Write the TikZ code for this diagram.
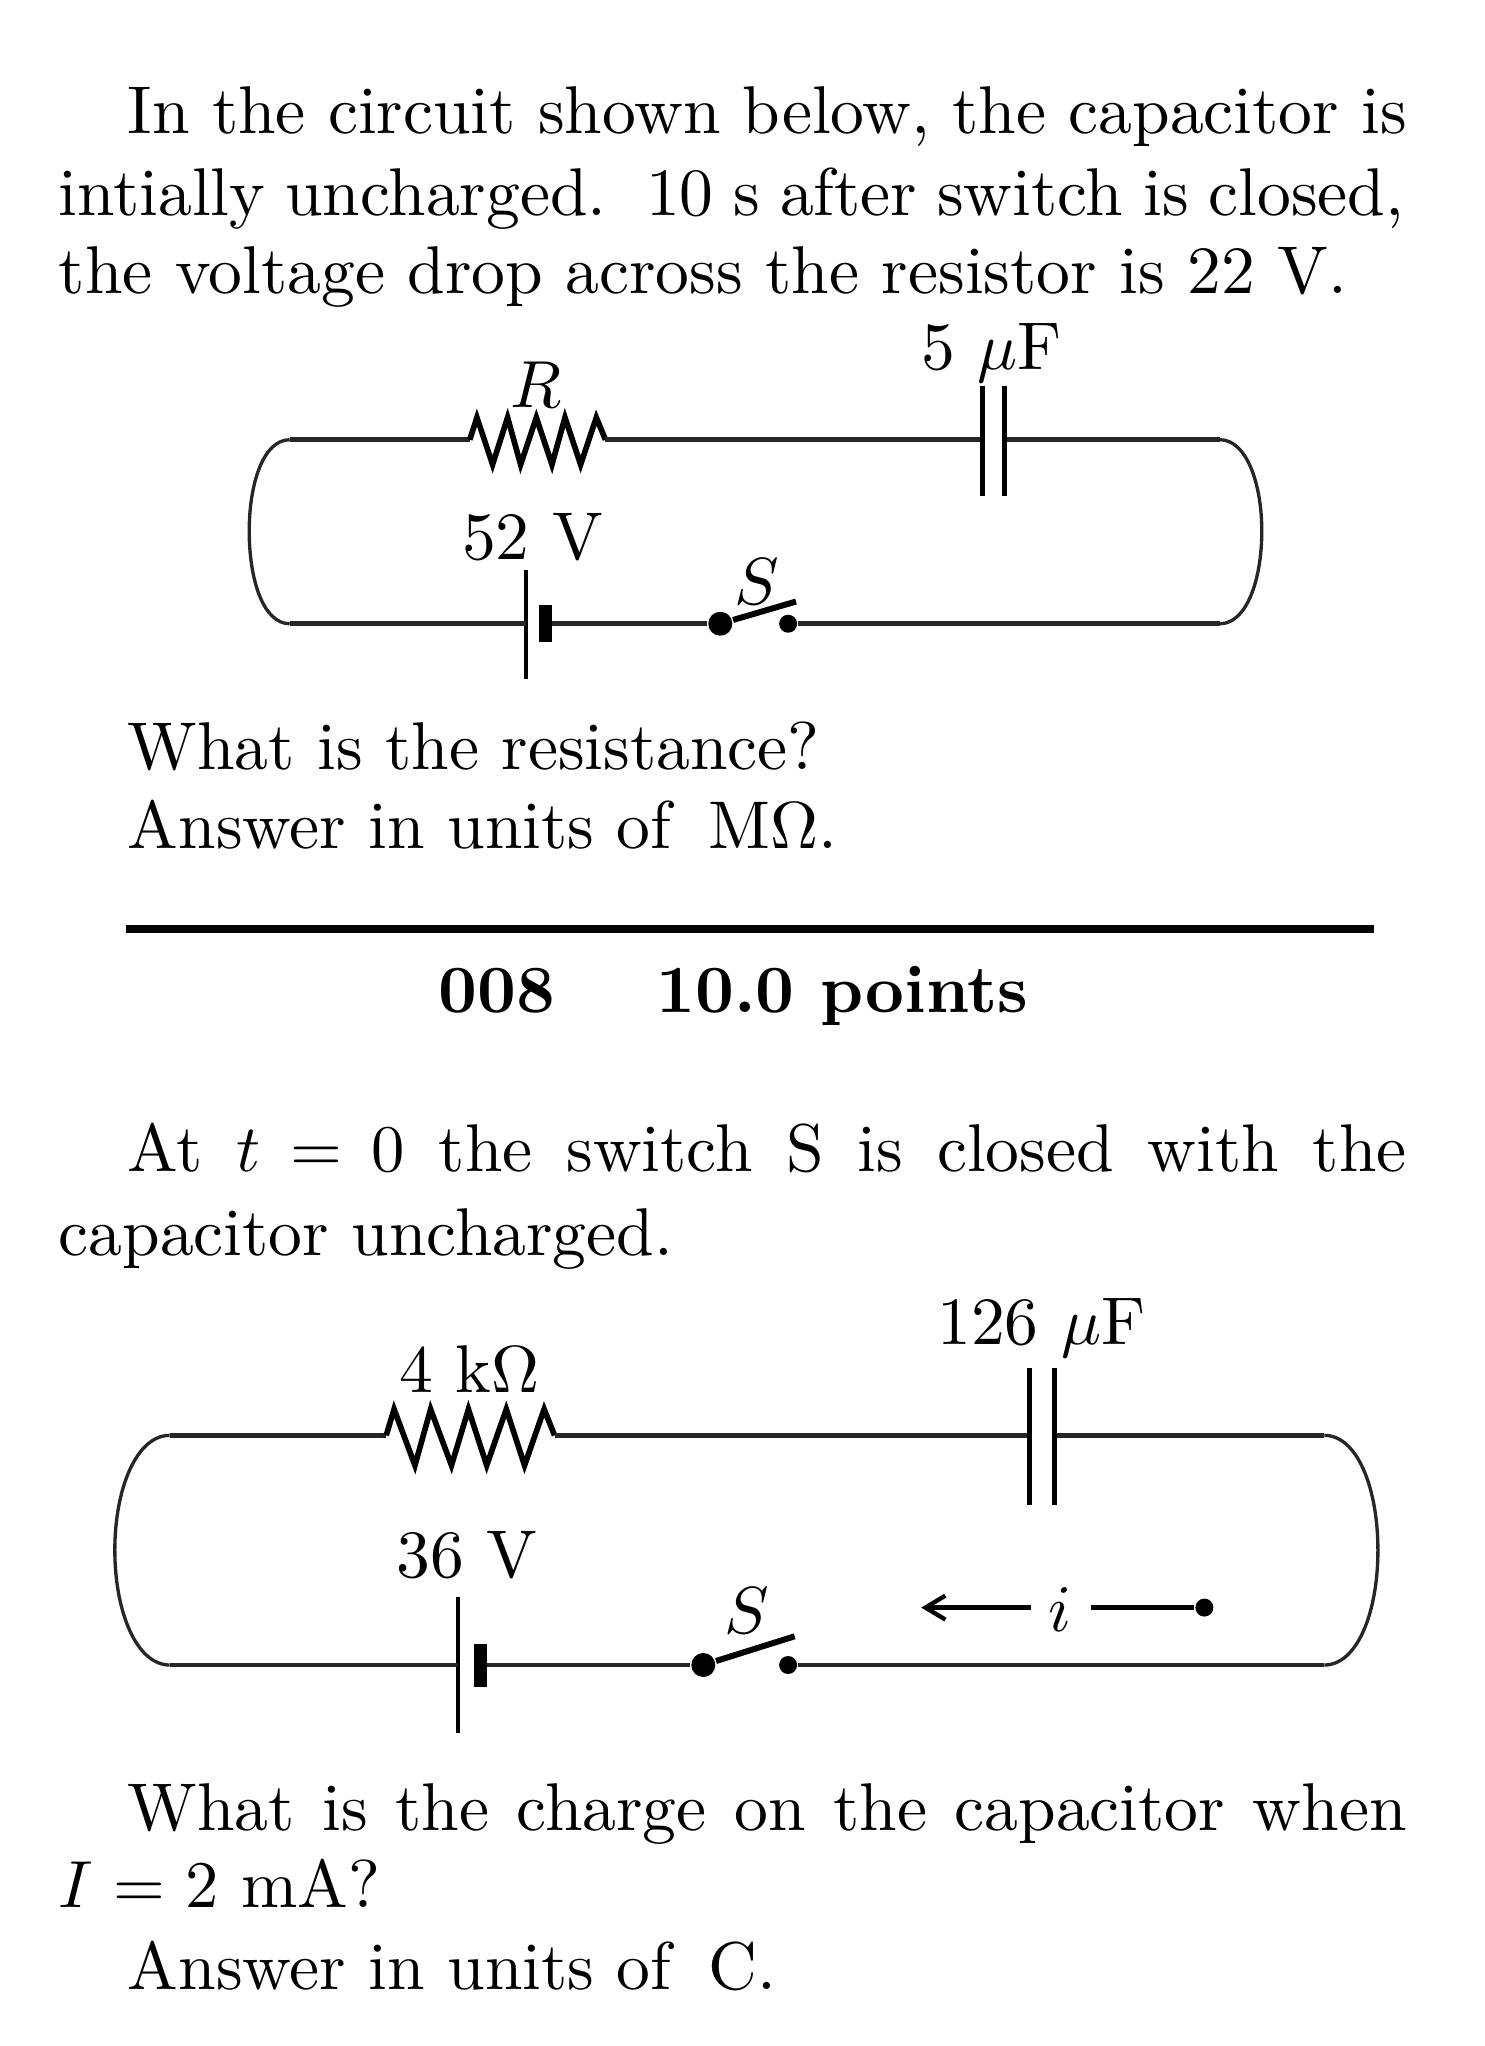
\documentclass[tikz,border=0pt]{standalone}
\usetikzlibrary{arrows.meta}
\begin{document}
\begin{tikzpicture}[x=0.196pt,y=-0.196pt,
  font=\fontsize{10.15}{12}\selectfont,
  txt/.style={anchor=base west,inner sep=0pt,outer sep=0pt},
  lbl/.style={anchor=base,inner sep=0pt,outer sep=0pt},
  wire/.style={line width=0.72pt,draw=black!85},
  thin wire/.style={line width=0.5pt,draw=black!85},
  plate/.style={line width=0.8pt},
  thickplate/.style={line width=1.9pt},
  zig/.style={line width=0.85pt,line join=miter},
  lever/.style={line width=0.9pt},
  bigdot/.style={circle,fill=black,inner sep=0pt,minimum size=3.6pt},
  smalldot/.style={circle,fill=black,inner sep=0pt,minimum size=2.7pt}]
\useasboundingbox (0,0) rectangle (1138,1568);
% text
\node[txt] (p1a) at (98,102) {\hbox to 192.1pt{In the circuit shown below, the capacitor is}};
\node[txt] (p1b) at (45,165) {\hbox to 202.1pt{intially uncharged.\ \ 10 s after switch is closed,}};
\node[txt] (p1c) at (45,225) {the voltage drop across the resistor is 22 V.};
\node[txt] (q1a) at (98,590) {What is the resistance?};
\node[txt] (q1b) at (98,650) {Answer in units of\hspace{0.55em}M$\Omega$.};
\node[fill=black,inner sep=0pt,minimum width=187.4pt,minimum height=1.1pt] (rule) at (575,712) {};
\node[lbl] (head) at (562,776) {\bfseries 008\hspace{1.5em}10.0 points};
\node[txt] (p2a) at (98,898) {\hbox to 192.1pt{At $\thickmuskip=8mu t=0$ the switch S is closed with the}};
\node[txt] (p2b) at (45,962) {capacitor uncharged.};
\node[txt] (q2a) at (98,1403) {\hbox to 192.1pt{What is the charge on the capacitor when}};
\node[txt] (q2b) at (45,1462) {$\thickmuskip=5.5mu I=2$ mA?};
\node[txt] (q2c) at (98,1525) {Answer in units of\hspace{0.55em}C.};
% circuit 1
\node[lbl] (lR) at (411,312) {$R$};
\node[lbl] (lC) at (760,283) {5 $\mu$F};
\node[lbl] (lV) at (408,429) {52 V};
\node[lbl] (lS) at (580,463) {$S$};
\coordinate (tl) at (222,337); \coordinate (tr) at (935,337);
\coordinate (bl) at (222,478); \coordinate (br) at (935,478);
\coordinate (ra) at (360,337); \coordinate (rb) at (464,337);
\coordinate (ca) at (753,337); \coordinate (cb) at (770,337);
\coordinate (ba) at (403,478); \coordinate (bb) at (418,478);
\node[bigdot] (sa) at (552,478) {};
\node[smalldot] (sb) at (604,478) {};
\coordinate (se) at (610,461);
\draw[wire] (tl) -- (ra);
\draw[zig] (ra) -- (365.5,320) -- (377.5,356) -- (389,320) -- (399,356) -- (411,320) -- (423,356) -- (433,320) -- (445,356) -- (457,320) -- (rb);
\draw[wire] (rb) -- (ca);
\draw[wire] (cb) -- (tr);
\draw[plate] (753,296) -- (753,380);
\draw[plate] (770,296) -- (770,380);
\draw[thin wire] (tr) .. controls (955,337) and (967,370) .. (967,407) .. controls (967,445) and (955,478) .. (br);
\draw[wire] (br) -- (sb);
\draw[lever] (sa) -- (se);
\draw[wire] (sa) -- (bb);
\draw[thickplate] (418,464) -- (418,492);
\draw[line width=0.5pt] (403,437) -- (403,520);
\draw[wire] (ba) -- (bl);
\draw[thin wire] (bl) .. controls (202,478) and (191,445) .. (191,407) .. controls (191,370) and (202,337) .. (tl);
% circuit 2
\node[lbl] (lR2) at (360,1067) {4 k$\Omega$};
\node[lbl] (lC2) at (798,1030) {126 $\mu$F};
\node[lbl] (lV2) at (358,1209) {36 V};
\node[lbl] (lS2) at (572,1252) {$S$};
\coordinate (tl2) at (130,1100); \coordinate (tr2) at (1015,1100);
\coordinate (bl2) at (130,1276); \coordinate (br2) at (1015,1276);
\coordinate (ra2) at (296,1100); \coordinate (rb2) at (425,1100);
\coordinate (ca2) at (789,1100); \coordinate (cb2) at (808,1100);
\coordinate (ba2) at (351,1276); \coordinate (bb2) at (368,1276);
\node[bigdot] (sa2) at (539,1276) {};
\node[smalldot] (sb2) at (604,1276) {};
\coordinate (se2) at (609,1254);
\draw[wire] (tl2) -- (ra2);
\draw[zig] (ra2) -- (302,1080) -- (318,1123) -- (330,1080) -- (346,1123) -- (359,1080) -- (373,1123) -- (388,1080) -- (402,1123) -- (417,1080) -- (rb2);
\draw[wire] (rb2) -- (ca2);
\draw[wire] (cb2) -- (tr2);
\draw[plate] (789,1048) -- (789,1153);
\draw[plate] (808,1048) -- (808,1153);
\draw[thin wire] (tr2) .. controls (1040,1100) and (1056,1140) .. (1056,1188) .. controls (1056,1236) and (1040,1276) .. (br2);
\draw[wire] (br2) -- (sb2);
\draw[lever] (sa2) -- (se2);
\draw[wire] (sa2) -- (bb2);
\draw[thickplate] (368,1260) -- (368,1293);
\draw[line width=0.5pt] (351,1224) -- (351,1328);
\draw[wire] (ba2) -- (bl2);
\draw[thin wire] (bl2) .. controls (105,1276) and (88,1236) .. (88,1188) .. controls (88,1140) and (105,1100) .. (tl2);
% current indicator
\node[lbl] (li) at (812,1250) {$i$};
\node[smalldot] (idot) at (923,1232) {};
\coordinate (itip) at (706,1232);
\draw[line width=0.65pt,-{Straight Barb[length=3pt,width=3.6pt]}] (790,1232) -- (itip);
\draw[line width=0.65pt] (836,1232) -- (idot);
\end{tikzpicture}
\end{document}
